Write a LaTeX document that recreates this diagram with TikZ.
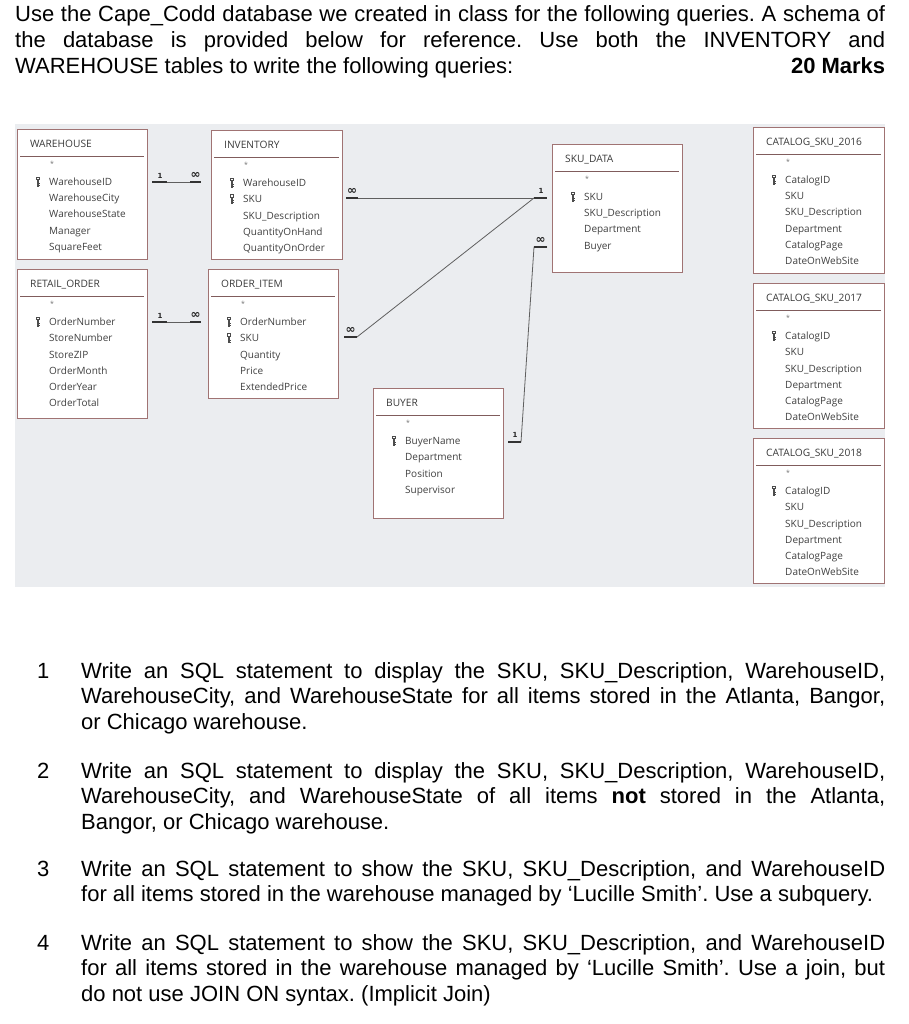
\documentclass[tikz,border=0pt]{standalone}
\usepackage{fontspec}
\setmainfont{Liberation Sans}
\newfontfamily\tblfont{Open Sans}
\newfontfamily\symfont{DejaVu Sans}
\frenchspacing
\definecolor{diagbg}{RGB}{235,237,240}
\definecolor{tblborder}{RGB}{160,115,115}
\definecolor{tbltext}{RGB}{64,64,64}
\definecolor{relline}{RGB}{95,95,95}
\tikzset{
  tblbox/.style={draw=tblborder, fill=white, line width=0.9pt, inner sep=0pt, anchor=north west},
  tbltitle/.style={font=\tblfont\fontsize{10.2}{12}\selectfont, text=tbltext!90!black, anchor=base west, inner sep=0pt},
  tblfield/.style={font=\tblfont\fontsize{10}{12}\selectfont, text=tbltext, anchor=base west, inner sep=0pt},
  tblstar/.style={font=\tblfont\fontsize{7}{8}\selectfont, text=black!55, anchor=center, inner sep=0pt},
  tblsep/.style={draw=tblborder!80!black, line width=0.9pt},
  relthin/.style={draw=relline, line width=0.8pt},
  relbar/.style={draw=black!80, line width=2.6pt, line cap=butt},
  labone/.style={font=\symfont\bfseries\fontsize{7}{8}\selectfont, text=black!85, inner sep=0pt},
  labinf/.style={font=\symfont\bfseries\fontsize{12}{12}\selectfont, text=black!85, inner sep=0pt},
  para/.style={font=\fontsize{22}{25.7}\selectfont, align=justify, anchor=base west, inner sep=0pt},
  qnum/.style={font=\fontsize{22}{25.7}\selectfont, anchor=base west, inner sep=0pt},
  keyicon/.pic={
    \fill[black!70] (-1.9,-5.2) rectangle (1.9,-1.6);
    \fill[white] (-0.7,-4.4) rectangle (0.7,-2.6);
    \fill[black!70] (-0.7,-1.6) rectangle (0.7,4.6);
    \fill[black!70] (0.7,1.2) rectangle (1.9,2.2);
    \fill[black!70] (0.7,3.2) rectangle (1.9,4.2);
  }
}
\newcommand\dbtable[7]{%
  \node[tblbox, minimum width={#4pt-#2pt}, minimum height={#5pt-#3pt}] (#1) at (#2,#3) {};
  \node[tbltitle] (#1-title) at ({#2+13},{#3+18.6}) {#6};
  \draw[tblsep] ({#2+3},{#3+27}) -- ({#4-3},{#3+27});
  \node[tblstar] (#1-star) at ({#2+35},{#3+35}) {*};
  \foreach \ftext/\fkey [count=\fidx from 0] in {#7} {
    \node[tblfield] (#1-f\fidx) at ({#2+32},{#3+53+16.3*\fidx+3.4}) {\ftext};
    \ifnum\fkey=1 \pic at ({#2+21},{#3+53+16.3*\fidx}) {keyicon};\fi
  }%
}
\begin{document}
\begin{tikzpicture}[x=1pt,y=-1pt]
\useasboundingbox (0,0) rectangle (909,1024);
\fill[white] (0,0) rectangle (909,1024);

% header paragraph
\node[para, text width=870pt] (intro) at (15,22) {Use the Cape\_Codd database we created in class for the following queries. A schema of\linebreak the database is provided below for reference. Use both the INVENTORY and\linebreak WAREHOUSE tables to write the following queries:\hfill\textbf{20 Marks}};

% schema background
\fill[diagbg] (15,124) rectangle (885,587);

% relationship coordinates
\coordinate (r1a) at (152,182); \coordinate (r1b) at (167,182);
\coordinate (r1c) at (190,182); \coordinate (r1d) at (201,182);
\coordinate (r2a) at (346,198); \coordinate (r2b) at (358,198);
\coordinate (r2c) at (534,198); \coordinate (r2d) at (547,198);
\coordinate (r3a) at (344,337); \coordinate (r3b) at (357,337);
\coordinate (r4a) at (152,322); \coordinate (r4b) at (167,322);
\coordinate (r4c) at (190,322); \coordinate (r4d) at (201,322);
\coordinate (r5a) at (534,247); \coordinate (r5b) at (547,247);
\coordinate (r5c) at (508,442); \coordinate (r5d) at (521,442);

% WAREHOUSE - INVENTORY
\draw[relthin] (r1a) -- (r1d);
\draw[relbar] (r1a) -- (r1b);
\draw[relbar] (r1c) -- (r1d);
\node[labone] (l1a) at (160,176) {1};
\node[labinf] (l1b) at (195.5,175.5) {∞};
% INVENTORY - SKU_DATA
\draw[relthin] (r2a) -- (r2d);
\draw[relbar] (r2a) -- (r2b);
\draw[relbar] (r2c) -- (r2d);
\node[labinf] (l2a) at (352,191.5) {∞};
\node[labone] (l2b) at (541,191) {1};
% ORDER_ITEM - SKU_DATA
\draw[relthin] (r3a) -- (r3b) -- (r2c);
\draw[relbar] (r3a) -- (r3b);
\node[labinf] (l3a) at (350.5,330.5) {∞};
% RETAIL_ORDER - ORDER_ITEM
\draw[relthin] (r4a) -- (r4d);
\draw[relbar] (r4a) -- (r4b);
\draw[relbar] (r4c) -- (r4d);
\node[labone] (l4a) at (160,316) {1};
\node[labinf] (l4b) at (195.5,315.5) {∞};
% SKU_DATA - BUYER
\draw[relthin] (r5b) -- (r5a) -- (r5d) -- (r5c);
\draw[relbar] (r5a) -- (r5b);
\draw[relbar] (r5c) -- (r5d);
\node[labinf] (l5a) at (540.5,240.5) {∞};
\node[labone] (l5b) at (515,435) {1};

% tables
\dbtable{warehouse}{17}{129}{147}{259}{WAREHOUSE}{WarehouseID/1, WarehouseCity/0, WarehouseState/0, Manager/0, SquareFeet/0}
\dbtable{inventory}{211}{130}{342}{259}{INVENTORY}{WarehouseID/1, SKU/1, SKU\_Description/0, QuantityOnHand/0, QuantityOnOrder/0}
\dbtable{skudata}{552}{144}{682}{272}{SKU\_DATA}{SKU/1, SKU\_Description/0, Department/0, Buyer/0}
\dbtable{cat16}{753}{127}{884}{273}{CATALOG\_SKU\_2016}{CatalogID/1, SKU/0, SKU\_Description/0, Department/0, CatalogPage/0, DateOnWebSite/0}
\dbtable{cat17}{753}{283}{884}{428}{CATALOG\_SKU\_2017}{CatalogID/1, SKU/0, SKU\_Description/0, Department/0, CatalogPage/0, DateOnWebSite/0}
\dbtable{cat18}{753}{438}{884}{583}{CATALOG\_SKU\_2018}{CatalogID/1, SKU/0, SKU\_Description/0, Department/0, CatalogPage/0, DateOnWebSite/0}
\dbtable{retail}{17}{269}{147}{418}{RETAIL\_ORDER}{OrderNumber/1, StoreNumber/0, StoreZIP/0, OrderMonth/0, OrderYear/0, OrderTotal/0}
\dbtable{orderitem}{208}{269}{338}{398}{ORDER\_ITEM}{OrderNumber/1, SKU/1, Quantity/0, Price/0, ExtendedPrice/0}
\dbtable{buyer}{373}{388}{503}{518}{BUYER}{BuyerName/1, Department/0, Position/0, Supervisor/0}

% questions
\node[qnum] (n1) at (37,678) {1};
\node[para, text width=804pt] (q1) at (81,678) {Write an SQL statement to display the SKU, SKU\_Description, WarehouseID,\linebreak WarehouseCity, and WarehouseState for all items stored in the Atlanta, Bangor,\linebreak or Chicago warehouse.};
\node[qnum] (n2) at (37,778) {2};
\node[para, text width=804pt] (q2) at (81,778) {Write an SQL statement to display the SKU, SKU\_Description, WarehouseID,\linebreak WarehouseCity, and WarehouseState of all items \textbf{not} stored in the Atlanta,\linebreak Bangor, or Chicago warehouse.};
\node[qnum] (n3) at (37,876) {3};
\node[para, text width=804pt] (q3) at (81,876) {Write an SQL statement to show the SKU, SKU\_Description, and WarehouseID\linebreak for all items stored in the warehouse managed by ‘Lucille Smith’. Use a subquery.};
\node[qnum] (n4) at (37,950) {4};
\node[para, text width=804pt] (q4) at (81,950) {Write an SQL statement to show the SKU, SKU\_Description, and WarehouseID\linebreak for all items stored in the warehouse managed by ‘Lucille Smith’. Use a join, but\linebreak do not use JOIN ON syntax. (Implicit Join)};
\end{tikzpicture}
\end{document}
